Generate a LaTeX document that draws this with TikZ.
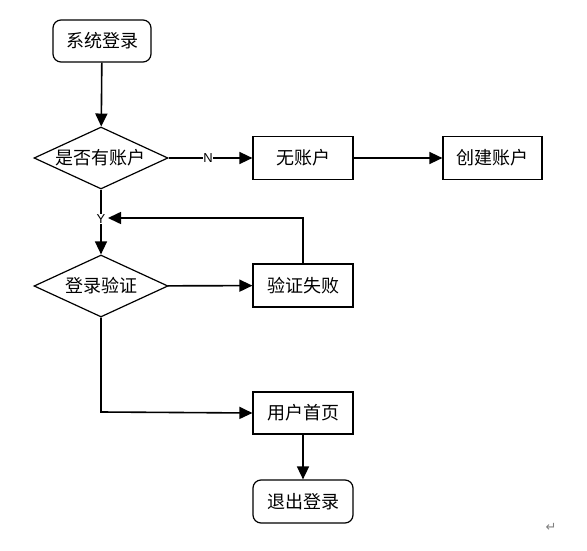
\documentclass[tikz,border=0pt]{standalone}
\usepackage{fontspec}
\newfontfamily\cjk{Noto Sans CJK SC}
\newfontfamily\lab{Liberation Sans}
\newfontfamily\sym{DejaVu Sans}
\usetikzlibrary{shapes.geometric,arrows.meta}
\begin{document}
\begin{tikzpicture}[x=1pt,y=-1pt,
  every node/.style={font=\cjk\fontsize{18}{20}\selectfont},
  boxnode/.style={draw,line width=1.2pt,minimum width=100pt,minimum height=43pt,inner sep=0pt},
  roundnode/.style={boxnode,rounded corners=8pt},
  decnode/.style={draw,line width=1.2pt,diamond,aspect=2.16,minimum width=134pt,minimum height=62pt,inner sep=0pt},
  conn/.style={line width=1.6pt,-{Triangle[length=13pt,width=12pt]}},
  lbl/.style={font=\lab\fontsize{13}{14}\selectfont,fill=white,inner sep=0.5pt}]
\useasboundingbox (0,0) rectangle (587,551);
\node[roundnode,minimum width=98pt,minimum height=42pt] (start) at (102,41) {系统登录};
\node[decnode] (d1) at (101,158) {是否有账户};
\node[boxnode] (noacc) at (303,158) {无账户};
\node[boxnode,minimum width=99pt] (create) at (492.5,158) {创建账户};
\node[decnode] (d2) at (101,286) {登录验证};
\node[boxnode] (fail) at (303,285.5) {验证失败};
\node[boxnode,minimum height=42pt] (home) at (303,413) {用户首页};
\node[roundnode] (logout) at (303,501.5) {退出登录};
\coordinate (back) at (108,218);
\coordinate (bend) at (101,412);
\draw[conn] (start) -- (d1);
\draw[conn] (d1) -- node[lbl,pos=0.47] (nlab) {N} (noacc);
\draw[conn] (noacc) -- (create);
\draw[conn] (d1) -- node[lbl,pos=0.45] (ylab) {Y} (d2);
\draw[conn] (fail.north) |- (back);
\draw[conn] (d2) -- (fail);
\draw[conn] (d2.south) -- (bend) -- (home.west);
\draw[conn] (home) -- (logout);
\node[font=\sym\fontsize{13}{14}\selectfont,text=gray] (ret) at (551,527) {↵};
\end{tikzpicture}
\end{document}
